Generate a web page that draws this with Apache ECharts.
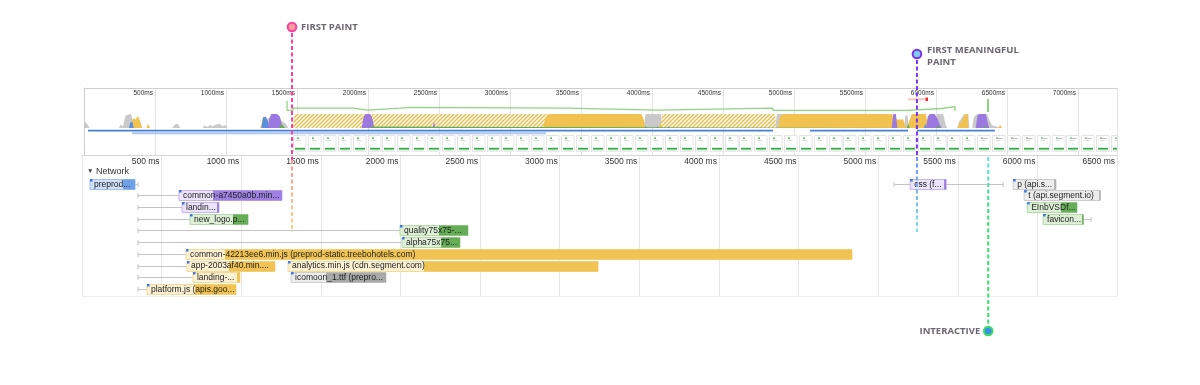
<!DOCTYPE html>
<html><head><meta charset="utf-8">
<script src="https://cdn.jsdelivr.net/npm/echarts@6/dist/echarts.min.js"></script>
<style>html,body{margin:0;padding:0;background:#fff}#c{width:1200px;height:385px}</style>
</head><body><div id="c"></div>
<script>
// ---------- DATA ----------
const OV_MAX = 7275;      // overview time range (ms)
const NET_MAX = 6500;     // network waterfall time range (ms)

// network requests
const resNames = ['preprod...', 'common-a7450a0b.min...', 'landin...', 'new_logo.p...', 'quality75x75-...', 'alpha75x75...',
  'common-42213ee6.min.js (preprod-static.treebohotels.com)', 'app-2003af40.min....', 'analytics.min.js (cdn.segment.com)',
  'landing-...', 'icomoon_1.ttf (prepro...', 'platform.js (apis.goo...', 'css (f...', 'p (api.s...', 't (api.segment.io)',
  'EInbVSDf...', 'favicon...'];
const resType = ['doc','css','css','img','img','img','js','js','js','js','font','js','css','other','other','img','img'];
const resRow = [1,2,3,4,5,6,7,8,8,9,9,10,1,1,2,3,4];
const resQueued = [null,352,352,352,352,352,352,352,null,352,null,352,5100,null,null,null,null];
const resStart = [50,609,628,678,1997,2010,653,659,1294,697,1313,408,5201,5848,5917,5936,6036];
const resRecv = [258,823,848,948,2242,2255,898,923,2148,974,1533,710,5414,6105,6388,6149,6281];
const resEnd = [333,1256,860,1043,2424,2374,4836,1212,3241,992,1909,967,5427,6117,6394,6249,6287];
const resTail = [352,null,null,null,null,null,null,null,null,null,null,null,5785,null,null,null,6337];

// milestone markers (overview time scale)
const markerNames = ['FIRST PAINT', 'FIRST MEANINGFUL\nPAINT', 'INTERACTIVE'];
const markerTimes = [1465, 5866, 6368];

// FPS trace
const fpsLine = [[1430,0.85],[1430,0.12],[1472,0.12],[1472,0.3],[1894,0.3],[1894,0.15],[2000,0.15],[2000,0.3],[2225,0.3],[2225,0.36],[2296,0.36],[2296,0.3],[3401,0.3],[3401,0.15],[4035,0.15],[4035,0.3],[4852,0.3],[4852,0.12],[5803,0.12],[5803,0.27],[6042,0.27],[6042,0.42],[6134,0.42],[6134,0.08]];
const jankStart = [5803], jankEnd = [5944];
const ttiTick = [6368];

// CPU activity (fraction of the track)
const cpuOther = [[0,0.55],[20,0.3],[40,0],[245,0],[260,0.25],[275,0.1],[292,0.9],[305,1],[330,1],[350,0.4],[365,0],[620,0],[640,0.25],[660,0.3],[680,0],[835,0],[850,0.2],[870,0.08],[890,0.25],[905,0.1],[930,0.25],[955,0.3],[975,0.12],[995,0.22],[1010,0],[1240,0],[1260,0.6],[1300,0.7],[1380,0.6],[1420,0.3],[1440,0],[1920,0],[1935,0.25],[1950,0],[2230,0],[2250,0.2],[2270,0],[3940,0],[3955,1],[4060,1],[4080,0],[4868,0],[4880,1],[4920,1],[4935,0],[5775,0],[5785,0.9],[5800,0.9],[5810,0],[5995,0],[6005,1],[6050,1],[6070,0.2],[6080,0],[6150,0],[6160,0.4],[6195,0.95],[6228,1],[6235,0],[6255,0],[6268,0.8],[6290,1],[6360,1],[6380,0.5],[6395,0.2],[6410,0.15],[6430,0.1],[6445,0]];
const cpuHatch = [[1470,0],[1480,1],[3262,1],[3270,0],[4062,0],[4072,1],[4868,1],[4876,0]];
const cpuScript = [[335,0],[345,0.7],[362,0.6],[380,0.85],[395,0.5],[410,0],[440,0],[450,0.3],[465,0],[1245,0],[1262,0.8],[1282,0.7],[1300,0],[3232,0],[3245,0.5],[3262,0.95],[3290,1],[3925,1],[3942,0.6],[3955,0],[4048,0],[4060,0.35],[4075,0],[4888,0],[4900,0.8],[4925,1],[5690,1],[5700,0.8],[5725,0.6],[5770,0.6],[5782,0.2],[5795,0],[5803,0],[5812,0.5],[5830,1],[5930,1],[5945,0],[6150,0],[6165,0.3],[6185,0.55],[6205,1],[6222,1],[6230,0],[6440,0],[6452,0.25],[6465,0]];
const cpuLoad = [[318,0],[325,0.4],[340,0.45],[350,0],[1250,0],[1260,0.75],[1280,0.8],[1295,0.5],[1305,0],[5700,0],[5710,0.6],[5722,0],[5915,0],[5925,0.3],[5935,0]];
const cpuRender = [[1295,0],[1305,0.7],[1320,1],[1360,1],[1380,0.8],[1395,0.2],[1405,0],[1955,0],[1970,0.8],[1985,1],[2015,1],[2030,0.7],[2045,0],[2455,0],[2465,0.45],[2475,0],[3945,0],[3955,0.15],[3965,0],[4030,0],[4038,0.15],[4046,0],[4105,0],[4115,0.15],[4125,0],[5688,0],[5700,1],[5718,1],[5728,0],[5930,0],[5942,0.8],[5955,1],[5990,1],[6010,0.7],[6025,0.3],[6040,0],[6280,0],[6292,0.85],[6305,1],[6350,1],[6365,0.4],[6375,0]];
const cpuPaint = [[1375,0],[1385,0.25],[1400,0.2],[1415,0],[2000,0],[2010,0.12],[2040,0.1],[2050,0],[5795,0],[5805,0.3],[5815,0],[6005,0],[6015,0.2],[6030,0],[6335,0],[6345,0.15],[6360,0.12],[6370,0]];

// network overview strips
const netOvStart = [28, 338, 5113, 5866];
const netOvEnd = [4852, 3254, 5803, 6415];
const netOvKind = [0, 1, 0, 0];

// filmstrip screenshot times
const filmFrames = [1474,1579,1683,1788,1893,1997,2102,2207,2312,2416,2521,2626,2730,2835,2940,3045,3149,3254,3359,3463,3568,3673,3778,3882,3987,4092,4196,4301,4406,4511,4615,4720,4825,4929,5034,5139,5244,5348,5453,5558,5662,5767,5872,5977,6081,6186,6291,6395,6500,6605,6710,6814,6919,7024,7128,7233];

// ---------- STYLE ----------
const typeStyle = {
  doc:  {light:'#cfe0f8', border:'#a3c1ee', dark:'#6f9fe8'},
  css:  {light:'#ece4fb', border:'#c6b4f0', dark:'#9d80e2'},
  img:  {light:'#ddf0d7', border:'#b3daa7', dark:'#66ad58'},
  js:   {light:'#fdf1d3', border:'#f4db9c', dark:'#f0c352'},
  font: {light:'#ececec', border:'#cfcfcf', dark:'#a9a9a9'},
  other:{light:'#ececec', border:'#cccccc', dark:'#b0b0b0'}
};
const markerStyle = [
  {dotY:27, fill:'#f99c9c', ring:'#ff3d9e', segs:[[33,160,['#ff3d9e','#ff3d9e']],[160,232,['#fb9a8e','#fbd38a']]], tx:9, ty:27, align:'left', va:'middle'},
  {dotY:54, fill:'#7fcaf5', ring:'#7a30f2', segs:[[60,157,['#7a34f2','#7a34f2']],[157,232,['#6a8ff3','#7fdcf2']]], tx:10, ty:44, align:'left', va:'top'},
  {dotY:331, fill:'#3c8df2', ring:'#38e05a', segs:[[157,325,['#5ee2f2','#38e28a','#36e36a','#36e36a']]], tx:-8, ty:331, align:'right', va:'middle'}
];

function hatchCanvas(){
  const c = document.createElement('canvas'); c.width = 4; c.height = 4;
  const g = c.getContext('2d');
  g.fillStyle = '#fff'; g.fillRect(0,0,4,4);
  g.strokeStyle = '#efbe50'; g.lineWidth = 1.5;
  g.beginPath();
  g.moveTo(0,4); g.lineTo(4,0);
  g.moveTo(-1,1); g.lineTo(1,-1);
  g.moveTo(3,5); g.lineTo(5,3);
  g.stroke();
  return c;
}

const FONT = 'Liberation Sans, Arial, sans-serif';
const chart = echarts.init(document.getElementById('c'), null, {renderer:'canvas'});

function hiddenX(gi, max){ return {gridIndex:gi, type:'value', min:0, max:max, show:false}; }
function hiddenY(gi, min, max, inv){ return {gridIndex:gi, type:'value', min:min, max:max, show:false, inverse:!!inv}; }

function cpuSeries(data, color, z){
  return {type:'line', xAxisIndex:2, yAxisIndex:2, data:data, showSymbol:false, symbol:'none',
    lineStyle:{width:0}, areaStyle:{color:color, opacity:1}, silent:true, z:z, animation:false};
}

const option = {
  animation:false,
  grid:[
    {left:84, right:83, top:88, height:67},   // 0 overview frame
    {left:84, right:83, top:99, height:13},   // 1 fps
    {left:84, right:83, top:114, height:14},  // 2 cpu
    {left:84, right:83, top:128, height:7},   // 3 network overview
    {left:84, right:83, top:135, height:17},  // 4 filmstrip
    {left:82, right:83, top:155, height:141}, // 5 network waterfall
    {left:84, right:83, top:0, height:385}    // 6 marker overlay
  ],
  xAxis:[
    {gridIndex:0, type:'value', min:0, max:OV_MAX, interval:500, position:'top',
      axisLine:{show:true, onZero:false, lineStyle:{color:'#cfcfcf'}}, axisTick:{show:false},
      axisLabel:{inside:true, margin:2, showMinLabel:false, showMaxLabel:false, align:'right', padding:[0,2,0,0], fontSize:6.5, color:'#333', fontFamily:FONT,
        formatter:v => v + 'ms'},
      splitLine:{show:true, lineStyle:{color:'#e3e3e3', width:1}}},
    hiddenX(1, OV_MAX), hiddenX(2, OV_MAX), hiddenX(3, OV_MAX), hiddenX(4, OV_MAX),
    {gridIndex:5, type:'value', min:0, max:NET_MAX, interval:500, position:'top',
      axisLine:{show:true, onZero:false, lineStyle:{color:'#d6d6d6'}}, axisTick:{show:false},
      axisLabel:{inside:true, margin:2.5, showMinLabel:false, align:'right', padding:[0,2,0,0], fontSize:8.5, color:'#333', fontFamily:FONT,
        formatter:v => v + ' ms'},
      splitLine:{show:true, lineStyle:{color:'#e6e6e6', width:1}}},
    hiddenX(6, OV_MAX),
    {gridIndex:5, type:'value', min:0, max:NET_MAX, position:'bottom', axisLine:{show:true, onZero:false, lineStyle:{color:'#eeeeee'}},
      axisTick:{show:false}, axisLabel:{show:false}, splitLine:{show:false}}
  ],
  yAxis:[
    {gridIndex:0, type:'value', min:0, max:1, axisLine:{show:true, onZero:false, lineStyle:{color:'#cfcfcf'}}, axisTick:{show:false}, axisLabel:{show:false}, splitLine:{show:false}},
    hiddenY(1, 0, 1), hiddenY(2, 0, 1), hiddenY(3, 0, 1), hiddenY(4, 0, 1),
    hiddenY(5, -1.45, 10.6, true),
    hiddenY(6, 0, 385, true)
  ],
  graphic:[
    {type:'text', left:87, top:167, style:{text:'{t|▼} Network', fontSize:9, fontFamily:FONT, fill:'#333',
      rich:{t:{fontSize:6.5, fill:'#444'}}}}
  ],
  series:[
    // FPS
    {type:'line', xAxisIndex:1, yAxisIndex:1, data:fpsLine, showSymbol:false, symbol:'none',
      lineStyle:{color:'#92d284', width:1.3}, silent:true, z:3,
      markLine:{silent:true, symbol:'none', label:{show:false}, lineStyle:{color:'#5fcb55', width:1.5, type:'solid'},
        data: ttiTick.map(t => ({xAxis:t}))}},
    {type:'custom', xAxisIndex:1, yAxisIndex:1, data:jankStart.map((s,i)=>[s, jankEnd[i]]), silent:true, z:4,
      renderItem:(params, api) => {
        const cs = params.coordSys;
        const x1 = api.coord([api.value(0),0])[0], x2 = api.coord([api.value(1),0])[0];
        return {type:'group', children:[
          {type:'rect', shape:{x:x1, y:cs.y-0.7, width:x2-x1-2.5, height:2}, style:{fill:'#f7c3c3'}},
          {type:'rect', shape:{x:x2-2.5, y:cs.y-1.5, width:2.5, height:3.5}, style:{fill:'#ee2b2b'}}
        ]};
      }},
    // CPU
    cpuSeries(cpuOther, '#c9c9c9', 2),
    cpuSeries(cpuHatch, {image: hatchCanvas(), repeat:'repeat'}, 3),
    cpuSeries(cpuScript, '#f1c24f', 4),
    cpuSeries(cpuLoad, '#5b8fdc', 5),
    cpuSeries(cpuRender, '#9b79e0', 6),
    cpuSeries(cpuPaint, '#62ad4f', 7),
    // network overview strips
    {type:'custom', xAxisIndex:3, yAxisIndex:3, data:netOvStart.map((s,i)=>[s, netOvEnd[i], netOvKind[i]]), silent:true, z:3,
      renderItem:(params, api) => {
        const cs = params.coordSys;
        const x1 = api.coord([api.value(0),0])[0], x2 = api.coord([api.value(1),0])[0];
        const k = api.value(2);
        return {type:'rect', shape:{x:x1, y:cs.y + (k===0 ? 1.7 : 4.3), width:x2-x1, height:1.9},
          style:{fill: k===0 ? '#4a7fd6' : '#a9c7f1'}};
      }},
    // filmstrip
    {type:'custom', xAxisIndex:4, yAxisIndex:4, data:filmFrames.map(t=>[t]), silent:true, z:3, clip:true,
      renderItem:(params, api) => {
        const cs = params.coordSys;
        const t = api.value(0);
        const x = Math.round(api.coord([t,0])[0]) + 0.5, y = cs.y + 0.5;
        const ch = [
          {type:'rect', shape:{x:x, y:y, width:12.5, height:16.5}, style:{fill:'#fff', stroke:'#e4e4e4', lineWidth:1}},
          {type:'rect', shape:{x:x+3.5, y:y+2, width:2, height:1.5}, style:{fill:'#58b85c'}},
          {type:'rect', shape:{x:x+3, y:y+4.5, width:5, height:0.8}, style:{fill:'#d2d2d2'}},
          {type:'rect', shape:{x:x+5.5, y:y+8, width:1, height:1}, style:{fill:'#dddddd'}},
          {type:'rect', shape:{x:x+1.5, y:y+12.3, width:10, height:1.8}, style:{fill:'#2fae44'}},
          {type:'rect', shape:{x:x+2, y:y+15, width:9, height:0.8}, style:{fill:'#d6d6d6'}}
        ];
        if (t > 6250) ch.push({type:'rect', shape:{x:x+4, y:y+2.5, width:6, height:1}, style:{fill:'#bbbbbb'}});
        return {type:'group', children:ch};
      }},
    // network waterfall
    {type:'custom', xAxisIndex:5, yAxisIndex:5, data:resNames.map((n,i)=>[resStart[i], resEnd[i], resRow[i]]), silent:true, z:5,
      renderItem:(params, api) => {
        const i = params.dataIndex;
        const row = resRow[i];
        const st = typeStyle[resType[i]];
        const yc = api.coord([0,row])[1];
        const X = t => api.coord([t,row])[0];
        const ch = [];
        const y0 = Math.round(yc) + 0.5;
        if (resQueued[i] != null) {
          const xq = X(resQueued[i]);
          ch.push({type:'line', shape:{x1:xq, y1:y0, x2:X(resStart[i]), y2:y0}, style:{stroke:'#c4c4c4', lineWidth:1}});
          ch.push({type:'line', shape:{x1:xq, y1:y0-2.5, x2:xq, y2:y0+2.5}, style:{stroke:'#c4c4c4', lineWidth:1}});
        }
        if (resTail[i] != null) {
          const xt = X(resTail[i]);
          ch.push({type:'line', shape:{x1:X(resEnd[i]), y1:y0, x2:xt, y2:y0}, style:{stroke:'#c4c4c4', lineWidth:1}});
          ch.push({type:'line', shape:{x1:xt, y1:y0-2.5, x2:xt, y2:y0+2.5}, style:{stroke:'#c4c4c4', lineWidth:1}});
        }
        const xs = X(resStart[i]), xd = X(resRecv[i]), xe = X(resEnd[i]);
        const top = Math.round(yc) - 4.5;
        ch.push({type:'rect', shape:{x:xs, y:top, width:xe-xs, height:10}, style:{fill:st.light, stroke:st.border, lineWidth:1}});
        ch.push({type:'rect', shape:{x:xd, y:top, width:Math.max(xe-xd,1.5), height:10}, style:{fill:st.dark}});
        ch.push({type:'rect', shape:{x:xs, y:top-0.5, width:2.5, height:2.5}, style:{fill:'#3a78e0'}});
        ch.push({type:'text', x:xs+4, y:yc+0.5, style:{text:resNames[i], fill:'#222', fontSize:8.5, fontFamily:FONT, align:'left', verticalAlign:'middle'}});
        return {type:'group', children:ch};
      }},
    // milestone markers
    {type:'custom', xAxisIndex:6, yAxisIndex:6, data:markerTimes.map(t=>[t]), silent:true, z:20, clip:false,
      renderItem:(params, api) => {
        const i = params.dataIndex, L = markerStyle[i];
        const t = api.value(0);
        const x = api.coord([t, 0])[0];
        const Y = y => api.coord([t, y])[1];
        const ch = [];
        L.segs.forEach(s => {
          const y1 = Y(s[0]), y2 = Y(s[1]);
          const cols = s[2];
          const stops = cols.map((c,k) => ({offset: cols.length === 4 ? [0,0.25,0.4,1][k] : k/(cols.length-1), color:c}));
          ch.push({type:'line', shape:{x1:x, y1:y1, x2:x, y2:y2},
            style:{stroke:{type:'linear', x:0, y:y1, x2:0, y2:y2, global:true, colorStops:stops}, lineWidth:2, lineDash:[4,2.5]}});
        });
        ch.push({type:'circle', shape:{cx:x, cy:Y(L.dotY), r:4.3}, style:{fill:L.fill, stroke:L.ring, lineWidth:2}});
        ch.push({type:'text', x:x + L.tx, y:Y(L.ty), style:{text:markerNames[i], fill:'#6c6670', fontSize:9.5, fontWeight:'bold',
          fontFamily:'Open Sans, sans-serif', align:L.align, verticalAlign:L.va, lineHeight:12}});
        return {type:'group', children:ch};
      }}
  ]
};
chart.setOption(option);
</script>
</body></html>
